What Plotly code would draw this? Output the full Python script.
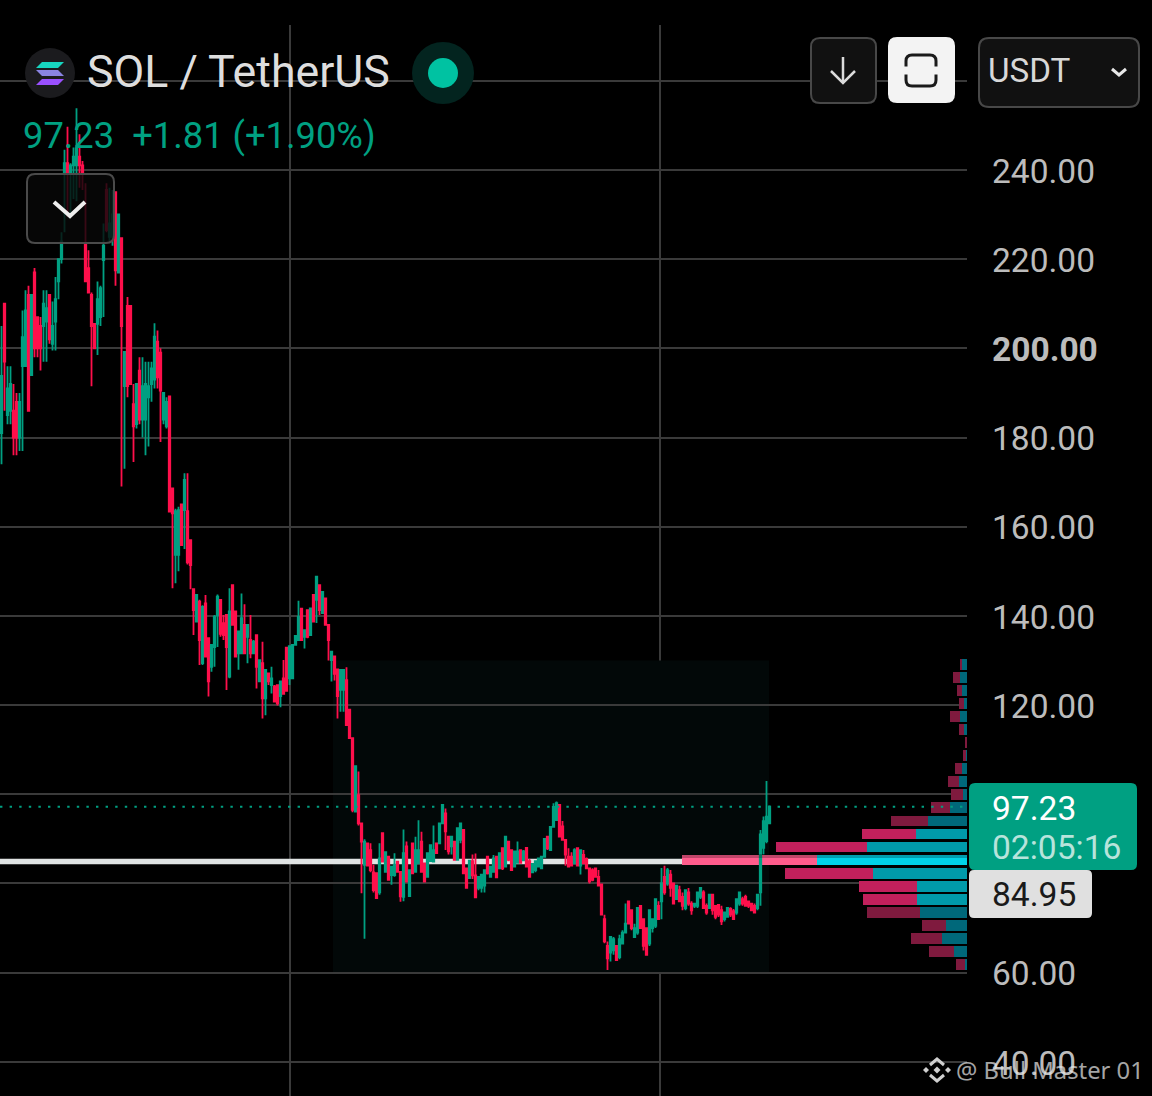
import plotly.graph_objects as go

# ---- price data (candles) ----
opens = [
181,210,185,186,186,188,180,196,196,212,
194,217,207,205,205,206,212,201,206,215,
220,239.5,241.5,239.5,241,241,243,241,223.5,218,
212,205.5,205.5,207,219.8,235.5,225,225,235,217,
224.7,191.5,209.5,209.5,187.5,183,195,184,184,189,
192,193,201.5,199,184,182.5,189.2,
168.6,153.7,153.7,165,163.7,163.5,157,146,138.7,143.2,
129.4,142.8,135,128.6,133,140.2,143.6,138.4,140.2,126.4,
146.9,141,131.6,131.6,138,135.3,134.6,131.6,135.7,125.3,
129.4,121.5,127.1,124.5,124.2,124.5,122,126,132.9,126,
126,133.5,134.6,141.6,135.3,141.3,135.7,144.7,143.6,146.9,
140.6,143.9,138,130.1,130.9,128,123.4,123.4,125.6,119,
112.6,96.1,99.8,93.5,84.2,89,87.5,82.5,82.3,78,
91.3,82.6,86,81.9,81.9,84.9,82.6,77,88.3,77.2,
89,82.6,84.5,89.4,84.5,81.5,85,84.9,89,89,
93.5,95.7,90.5,88.3,89.4,85.3,89.8,92,83.4,81.2,
85,81.8,79,79,79.5,86,81.5,82.6,86,83.4,
87.9,83.8,89.4,87.5,83.8,84.6,87.5,85.2,88,85,
82.5,83,83.8,83.4,86,90.5,87.5,92.7,94.2,97.6,
92.8,89.8,86,86,84.5,87.9,84,86.4,85.5,83.4,
83,83.4,81.5,79.8,72,66,64.5,65,66,63.5,
66.5,69,76,74,68,69,75,72,70,66.5,
70,70.5,75,76,81.5,80,82,80,76.5,78.5,
77,74.5,78,75.5,75,75,77,78,75,74.5,
77.5,75,75.2,74,72,72.5,74.3,73.8,73.5,75.5,
76.5,77,76,75.5,75,74.5,78,88,89.5,93.5]

highs = [
205,210,196,196,192,190,190,208.5,213,214,
212,218,207,207,213,213,212,210.5,216,220,
226,244.5,249.7,241.5,245,253.8,248,242,237,222,
212.5,205.5,215,214,228,237,236,235.5,235,230,
224.7,199.2,211.5,209.5,192,192,198,198,197,197,
197,205.6,204,200,190,189,189.2,
168.6,164,164.5,165,172,172,157,146,144.7,143.6,
142.4,144.7,135,133.5,140.2,144.8,143.6,140.2,140.2,146.2,
146.9,141,136.5,145,142.6,138,140.2,134.6,135.7,130.1,
134.2,127.9,127.1,128.6,124.5,124.5,125.3,130.1,132.9,133.2,
133.5,135.5,143.4,141.6,136.8,141.3,141.7,144.7,149,146.9,
145.6,143.9,138,132,130.9,128,127.9,127.9,128.5,119,
112.6,106.3,105.1,93.5,89.9,89,89,84.2,82.3,89,
91.3,87,86,83.8,86.8,84.9,82.6,92.1,89.4,83,
89,90.5,94.2,91.6,84.5,86.8,88.8,93,89,93.5,
97.8,96.8,90.5,90.5,89.4,92.4,93.5,92,83.4,85.1,
86.5,86.7,81.5,82,83,86,83.8,86.4,86,86.8,
87.9,90.5,89.4,87.5,87.2,89.4,87.5,87.5,88,85.5,
84.5,85,85.6,86,90,90.5,92.8,98,98.4,97.6,
94,89.8,87.9,87,87.9,87.9,87.5,87.5,85.8,83.4,
83.4,83.4,83,80,73,67,68,68,66,68.5,
69.5,75.5,76,74,71,74.5,75,72,70,74,
72,76.5,76,83.5,84,83.5,83,80,79.5,79.5,
78,78.5,79,76,75.5,78,79,78.5,75.5,77.5,
77.5,75,75.2,75,73.5,74.5,74.7,74.3,76.5,78,
77,77.5,76,75.5,75.5,77.5,92,95,103,97.5]

lows = [
174,186,183,183,176,176,177,177,196,186,
194,198,198,195,197,197,201,199.5,199.5,211,
219,226,229.5,230,233.5,233,236,235.5,215,212.5,
191.5,200,198.5,205,207,226,224,223,214,217,
169,173,189,192,174.5,182,183,180,176,178,
188,191,191,179,183,182,163.4,
146.2,147.3,150,155.9,155,151.5,146,135.7,138.7,129,
129,130.9,121.9,127.5,128.6,133,135.3,134.6,123.4,126,
138,130.9,127.9,131.6,131.6,129.4,130.5,131.6,123.7,125.3,
117,117.7,124.5,122.6,120.8,119.9,119.5,122.4,123,124.5,
126,133.5,134.6,134.6,132.7,135,135.7,138.7,138.4,140.2,
140.6,138,130,125.3,125.5,117,118.5,118.5,115.5,112.6,
96,96,93,77.8,67.6,84,82.5,78,76.7,77.5,
84.9,82.6,80.8,79.7,81.5,82.6,75.9,76,80.4,77.2,
82.3,82.6,84.5,82.6,80.4,81.5,84.9,84.9,86.8,89,
93.5,87.5,86.5,86.5,85.3,85.3,89,82.3,79,81,
81,76.9,78.5,78,78,82,81.5,82.6,81.4,83.4,
83,83.8,85,83,83.8,84.5,84.5,85,83.8,81.5,
82.3,82.5,83.8,83.4,86,87.5,87.5,94,94.2,90.5,
89.8,84,83.8,84,84.5,84,82,84.5,83.4,80,
80.5,81.5,79.5,73,66.6,60.6,62.5,64,62.8,63,
66.5,69,71,69.5,68,68.5,70,65,64,66,
69,70,72,72,77.5,79.5,77,75.5,76.5,76,
74,74,75,73,74.5,74.5,76.5,74.5,73,74.5,
73,72,72.5,70.7,71.5,72.5,72.5,72,73,75,
75,75,74.5,74,73.5,74,75,86.5,89,93.5]

closes = [
193.8,197,191,192,180,180,188,202.5,208.5,186,
212,200,200,200,210,209,202,205,211,220,
224,241.5,239.5,241,243,244.8,241,239.5,215,212.5,
205,200,211,213.5,223,226.5,228,230,217.5,230,
205,199.2,191.5,192,182.5,192,184,191.5,192,191.5,
195.5,202.6,193.5,190.5,190,188,163.4,
163,163.5,163.7,155.9,170.5,152,151.4,141.3,144.7,134.6,
142,130.9,125.3,133.5,139.8,144.3,136,135.7,133,141,
138,130.9,136.5,139.5,131.6,138,131.6,134.2,128.6,130.1,
121.5,127.9,125.3,126,120.8,120.4,125.3,122.5,123.2,133.2,
133.5,135.5,139.8,134.6,136.8,135.3,141.7,138.7,148.8,141.3,
145.4,138,134.6,132,127,122,127.9,127.9,115.5,112.6,
96.5,106.3,93.5,89.4,89.4,84,83,78.5,76.7,85.6,
84.9,87,80.8,83.8,84.2,82.6,77.1,86.8,80.4,83,
82.3,87.5,87.5,82.6,80.4,86.8,88.6,87.5,86.8,93.5,
97.6,91.7,87.2,90.5,85.3,92.4,93.5,82.3,79,85.1,
81.8,76.9,81.5,82,83,82.3,83.8,85.6,81.4,86.8,
83.4,90.5,85.3,83,87.2,87.2,84.6,87.2,83.8,81.5,
84.4,85,85.6,86,90,87.9,92.7,97.2,98,90.5,
89.8,86.5,83.8,84,87.5,84,87.5,84.5,83.4,80.5,
80.8,81.5,79.5,73,67,63.2,68,67.5,62.8,67.5,
69,71,71,70,70,74.5,70,66,64,74,
72,76.5,72,80,78,83,79,75.5,79.5,76,
75,78.5,75.5,74,75.5,78,79,74.5,73.5,77.5,
74,72.5,73,71.5,73.5,74.5,73,72,76.5,78,
75.5,75,75,74,73.5,77.5,91,94,95,97.23]

assert len(opens) == len(highs) == len(lows) == len(closes) == 257

# ---- axis ticks ----
tick_values = [40, 60, 80, 100, 120, 140, 160, 180, 200, 220, 240, 260]
tick_labels = ["40.00", "60.00", "", "", "120.00", "140.00", "160.00", "180.00",
               "<b>200.00</b>", "220.00", "240.00", ""]

# ---- volume profile, bottom row first ----
profile_prices = [61.9, 64.82, 67.74, 70.66, 73.58, 76.5, 79.42, 82.34, 85.26, 88.18, 91.1, 94.02,
                  96.94, 99.86, 102.78, 105.7, 108.62, 111.54, 114.46, 117.38, 120.3, 123.22, 126.14, 129.06]
profile_buy = [1.7, 13.3, 25.3, 21.3, 46.7, 50, 49.7, 94, 150, 99.7, 51, 39,
               17.3, 4, 7.7, 5, 0.7, 0.7, 3, 6.7, 3.3, 5, 7, 4.7]
profile_sell = [9, 24.4, 30.4, 23.4, 53.6, 54.3, 58.6, 87.7, 135, 91, 54, 36.7,
                19, 12.3, 11, 6.7, 3, 1, 4.7, 10.3, 4.4, 5, 7, 2]
value_area = [0, 0, 0, 0, 0, 1, 1, 1, 2, 1, 1, 0,
              0, 0, 0, 0, 0, 0, 0, 0, 0, 0, 0, 0]

POC_PRICE = 84.95
LAST_PRICE = 97.23
BOX_LOW, BOX_HIGH = 60, 130

W, H = 1152, 1096
PLOT_W = 967
PITCH = 3.0
UP, DOWN = "#00a082", "#ff0f4b"
BUY_COL = ["#00687a", "#009aaa", "#00d2e8"]
SELL_COL = ["#7f1a3e", "#c2205c", "#ff5c8c"]
xpos = [i + 0.5 for i in range(len(opens))]

fig = go.Figure()
fig.add_trace(go.Bar(y=profile_prices, x=profile_buy, orientation="h", width=2.45,
                     marker=dict(color=[BUY_COL[v] for v in value_area], line_width=0),
                     xaxis="x", yaxis="y", hoverinfo="skip"))
fig.add_trace(go.Bar(y=profile_prices, x=profile_sell, orientation="h", width=2.45,
                     marker=dict(color=[SELL_COL[v] for v in value_area], line_width=0),
                     xaxis="x", yaxis="y", hoverinfo="skip"))
fig.add_trace(go.Candlestick(x=xpos, open=opens, high=highs, low=lows, close=closes,
                             xaxis="x2", yaxis="y", whiskerwidth=0,
                             increasing=dict(line=dict(color=UP, width=1.8), fillcolor=UP),
                             decreasing=dict(line=dict(color=DOWN, width=1.8), fillcolor=DOWN)))
fig.add_trace(go.Scatter(x=[0, PLOT_W / PITCH], y=[LAST_PRICE, LAST_PRICE], mode="lines",
                         xaxis="x2", yaxis="y", hoverinfo="skip",
                         line=dict(color="#00a082", width=2, dash="2.4px,7.2px")))


def px(x):
    return x / W


def py(y):
    return 1 - y / H


def rrect(x0, y0, x1, y1, r, fill, line=None, lw=0, layer="above"):
    d = (f"M{px(x0+r)},{py(y0)} L{px(x1-r)},{py(y0)} Q{px(x1)},{py(y0)} {px(x1)},{py(y0+r)} "
         f"L{px(x1)},{py(y1-r)} Q{px(x1)},{py(y1)} {px(x1-r)},{py(y1)} "
         f"L{px(x0+r)},{py(y1)} Q{px(x0)},{py(y1)} {px(x0)},{py(y1-r)} "
         f"L{px(x0)},{py(y0+r)} Q{px(x0)},{py(y0)} {px(x0+r)},{py(y0)} Z")
    return dict(type="path", xref="paper", yref="paper", path=d, fillcolor=fill, layer=layer,
                line=dict(color=line or "rgba(0,0,0,0)", width=lw))


def poly(pts, fill=None, line=None, lw=0, close=True):
    d = "M" + " L".join(f"{px(x)},{py(y)}" for x, y in pts) + (" Z" if close else "")
    return dict(type="path", xref="paper", yref="paper", path=d, layer="above",
                fillcolor=fill or "rgba(0,0,0,0)",
                line=dict(color=line or "rgba(0,0,0,0)", width=lw))


def circle(cx, cy, r, fill):
    return dict(type="circle", xref="paper", yref="paper", layer="above",
                x0=px(cx - r), x1=px(cx + r), y0=py(cy + r), y1=py(cy - r),
                fillcolor=fill, line_width=0)


def diamond(cx, cy, r, fill):
    return poly([(cx - r, cy), (cx, cy - r), (cx + r, cy), (cx, cy + r)], fill=fill)


GRID = "#3a3a3a"
shapes = [
    # shaded box behind the grid
    dict(type="rect", xref="x2", yref="y", x0=333 / PITCH, x1=769 / PITCH, y0=BOX_LOW, y1=BOX_HIGH,
         fillcolor="#020808", line_width=0, layer="below"),
    # vertical grid lines, stopping short of the top
    dict(type="line", xref="x2", yref="paper", x0=290 / PITCH, x1=290 / PITCH, y0=0, y1=py(25),
         line=dict(color=GRID, width=2), layer="below"),
    dict(type="line", xref="x2", yref="paper", x0=660 / PITCH, x1=660 / PITCH, y0=0, y1=py(25),
         line=dict(color=GRID, width=2), layer="below"),
    # point of control
    dict(type="line", xref="x2", yref="y", x0=0, x1=682 / PITCH, y0=POC_PRICE, y1=POC_PRICE,
         line=dict(color="#dfe3e3", width=5.5), layer="below"),
    # darker upper stripe of the fullest profile row
    poly([(682, 854), (967, 854), (967, 858), (682, 858)], fill="rgba(0,0,0,0.25)"),
    # logo
    circle(50, 73, 25, "#1b1b1e"),
    poly([(42, 62), (64, 62), (58, 68), (36, 68)], fill="#17d6c0"),
    poly([(36, 70), (58, 70), (64, 76), (42, 76)], fill="#8a84e2"),
    poly([(42, 79), (64, 79), (58, 85), (36, 85)], fill="#9a50ff"),
    # status dot
    circle(443, 73, 31, "#03241f"),
    circle(443, 73, 15, "#00c2a2"),
    # dropdown button
    rrect(27, 174, 114, 243, 8, "rgba(8,8,8,0.8)", "#4a4a4a", 2),
    poly([(54, 202), (70, 216), (85, 202)], line="#eeeeee", lw=4, close=False),
    # arrow button
    rrect(811, 38, 876, 103, 9, "#111111", "#484848", 2),
    poly([(843, 57), (843, 83)], line="#dcdcdc", lw=2.5, close=False),
    poly([(831, 71), (843, 83), (855, 71)], line="#dcdcdc", lw=2.5, close=False),
    # white button
    rrect(888, 37, 955, 103, 9, "#f3f3f3"),
    rrect(906, 55, 936, 86, 6, "rgba(0,0,0,0)", "#1a1a1a", 3),
    poly([(902, 70.5), (940, 70.5)], line="#f3f3f3", lw=8, close=False),
    # currency button
    rrect(979, 38, 1139, 107, 10, "#111111", "#484848", 2),
    poly([(1112, 69), (1119, 75), (1126, 69)], line="#e8e8e8", lw=3, close=False),
    # price tags
    rrect(969, 870, 1092, 918, 5, "#e0e0e0"),
    rrect(969, 783, 1137, 870, 6, "#00a082"),
    # watermark logo
    diamond(926, 1070, 3, "#d0d0d0"),
    diamond(948, 1070, 3, "#d0d0d0"),
    diamond(937, 1070, 3.5, "#d0d0d0"),
    poly([(930, 1065), (937, 1059), (944, 1065)], line="#d0d0d0", lw=3, close=False),
    poly([(930, 1075), (937, 1081), (944, 1075)], line="#d0d0d0", lw=3, close=False),
]


def label(x, y, text, size, color, family="Roboto"):
    return dict(xref="paper", yref="paper", x=px(x), y=py(y), text=text, showarrow=False,
                xanchor="left", yanchor="middle", align="left", borderpad=0,
                font=dict(family=family, size=size, color=color))


annotations = [
    label(86, 72, "SOL / TetherUS", 44.7, "#dedede"),
    label(22, 136, "97.23\u00a0\u00a0+1.81 (+1.90%)", 36.3, "#00a082"),
    label(987, 71, "USDT", 33.2, "#d8d8d8"),
    label(991, 808, "97.23", 33.6, "#ffffff"),
    label(991, 847, "02:05:16", 33.6, "rgba(255,255,255,0.72)"),
    label(991, 894, "84.95", 33.6, "#1a1a1a"),
    label(955, 1070, "@ Bull Master 01", 23.8, "rgba(230,230,230,0.72)", "Noto Sans"),
]

fig.update_layout(
    width=W, height=H, autosize=False, showlegend=False,
    margin=dict(l=0, r=0, t=0, b=0, pad=0),
    paper_bgcolor="#000000", plot_bgcolor="#000000",
    barmode="stack",
    shapes=shapes, annotations=annotations,
    xaxis=dict(domain=[0, PLOT_W / W], range=[PLOT_W, 0], visible=False, fixedrange=True),
    xaxis2=dict(domain=[0, PLOT_W / W], range=[0, PLOT_W / PITCH], overlaying="x", anchor="y",
                visible=False, rangeslider=dict(visible=False), fixedrange=True),
    yaxis=dict(domain=[0, 1], range=[32.35, 278.1], side="right", anchor="x",
               tickvals=tick_values, ticktext=tick_labels, ticks="",
               ticklabelstandoff=24, ticklabelshift=1,
               tickfont=dict(family="Roboto", size=33.5, color="#bcbcbc"),
               gridcolor=GRID, gridwidth=2, zeroline=False, showline=False, fixedrange=True),
)

fig.write_html("out.html", config=dict(displayModeBar=False),
               post_script="document.body.style.margin='0';document.body.style.background='#000';"
                           "document.documentElement.style.overflow='hidden';")
